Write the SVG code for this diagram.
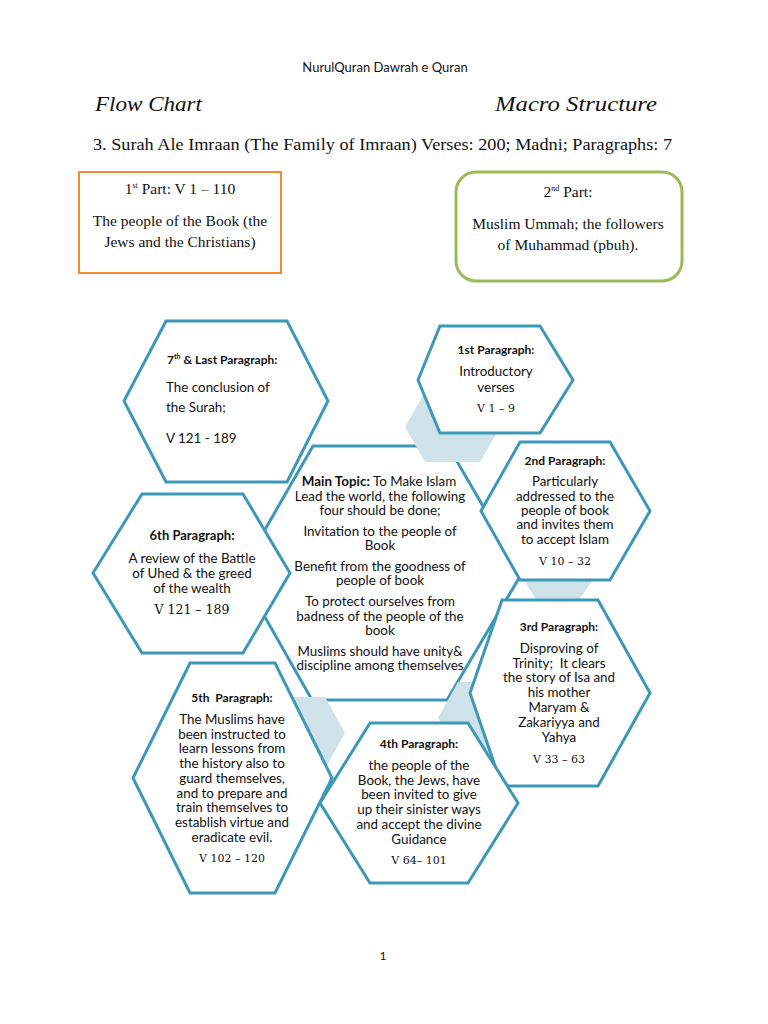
<svg xmlns="http://www.w3.org/2000/svg" width="768" height="1024" viewBox="0 0 768 1024">
<style>
.hex{fill:#fff;stroke:#3d98b8;stroke-width:3;stroke-linejoin:miter}
.lt{fill:#cfe2ea;stroke:none}
.s{font-family:Lato,"Open Sans","Liberation Sans",sans-serif;font-size:13.4px;fill:#111;text-anchor:middle}
.h{font-family:Lato,"Liberation Sans",sans-serif;font-size:12px;font-weight:bold;fill:#111;text-anchor:middle}
.v{font-family:"DejaVu Serif","Liberation Serif",serif;font-size:11px;fill:#111;text-anchor:middle}
.g{font-family:"Liberation Serif","DejaVu Serif",serif;font-size:15.5px;fill:#111;text-anchor:middle}
.sc{font-family:"Liberation Serif",serif;font-style:italic;font-size:22px;fill:#111}
.pre{white-space:pre}
</style>
<rect width="768" height="1024" fill="#fff"/>
<text x="385" y="72" class="s" style="font-size:13px">NurulQuran Dawrah e Quran</text>
<text x="95" y="111" class="sc" textLength="107" lengthAdjust="spacingAndGlyphs">Flow Chart</text>
<text x="495" y="111" class="sc" textLength="162" lengthAdjust="spacingAndGlyphs">Macro Structure</text>
<text x="93" y="150" class="g" style="font-size:16.5px;text-anchor:start" textLength="579" lengthAdjust="spacingAndGlyphs">3. Surah Ale Imraan (The Family of Imraan) Verses: 200; Madni; Paragraphs: 7</text>

<g id="part1">
<rect x="79" y="172" width="202" height="101" fill="#fff" stroke="#f58a2e" stroke-width="2"/>
<text x="180" y="194" class="g">1<tspan font-size="8" dy="-6">st</tspan><tspan dy="6"> Part: V 1 – 110</tspan></text>
<text x="180" y="226" class="g">The people of the Book (the</text>
<text x="180" y="247" class="g">Jews and the Christians)</text>
</g>
<g id="part2">
<rect x="456" y="172" width="226" height="109" rx="20" fill="#fff" stroke="#9bbb59" stroke-width="3"/>
<text x="568" y="197" class="g">2<tspan font-size="8" dy="-6">nd</tspan><tspan dy="6"> Part:</tspan></text>
<text x="568" y="229" class="g">Muslim Ummah; the followers</text>
<text x="568" y="250" class="g">of Muhammad (pbuh).</text>
</g>

<g id="main">
<polygon class="hex" points="240,573 313,446 448,446 522,573 447,700 312,700"/>
<text x="379" y="486" class="s"><tspan font-weight="bold">Main Topic:</tspan> To Make Islam</text>
<text x="380" y="501" class="s">Lead the world, the following</text>
<text x="380" y="515" class="s">four should be done;</text>
<text x="380" y="536" class="s">Invitation to the people of</text>
<text x="380" y="550" class="s">Book</text>
<text x="380" y="571" class="s">Benefit from the goodness of</text>
<text x="380" y="585" class="s">people of book</text>
<text x="380" y="606" class="s">To protect ourselves from</text>
<text x="380" y="621" class="s">badness of the people of the</text>
<text x="380" y="635" class="s">book</text>
<text x="380" y="656" class="s">Muslims should have unity&amp;</text>
<text x="380" y="670" class="s">discipline among themselves</text>
</g>

<g id="connectors">
<polygon class="lt" points="405,427 425,392 480,392 500,427 480,462 425,462"/>
<polygon class="lt" points="438,718 458,682 505,682 525,718 505,753 458,753"/>
<polygon class="lt" points="270,733 290,697 325,697 345,733 325,769 290,769"/>
<polygon class="lt" points="520,574 597,574 578,601 537,601"/>
</g>

<g id="p1">
<polygon class="hex" points="418,380 440,326 540,326 573,380 540,433 440,433"/>
<text x="496" y="354" class="h">1st Paragraph:</text>
<text x="496" y="376" class="s">Introductory</text>
<text x="496" y="392" class="s">verses</text>
<text x="496" y="412" class="v">V 1 – 9</text>
</g>
<g id="p7">
<polygon class="hex" points="124,401 166,321 287,321 328,401 287,482 166,482"/>
<text x="167" y="364" class="h" style="text-anchor:start">7<tspan font-size="7" dy="-5">th</tspan><tspan dy="5"> &amp; Last Paragraph:</tspan></text>
<text x="166" y="392" class="s" style="text-anchor:start">The conclusion of</text>
<text x="166" y="412" class="s" style="text-anchor:start">the Surah;</text>
<text x="166" y="443" class="s" style="text-anchor:start">V 121 - 189</text>
</g>
<g id="p6">
<polygon class="hex" points="93,573 142,494 243,494 290,573 243,653 142,653"/>
<text x="192" y="540" class="h" style="font-size:13px">6th Paragraph:</text>
<text x="192" y="563" class="s">A review of the Battle</text>
<text x="192" y="578" class="s">of Uhed &amp; the greed</text>
<text x="192" y="593" class="s">of the wealth</text>
<text x="192" y="614" class="v" style="font-size:12.5px">V 121 – 189</text>
</g>
<g id="p2">
<polygon class="hex" points="481,511 520,442 610,442 650,511 610,580 520,580"/>
<text x="565" y="465" class="h">2nd Paragraph:</text>
<text x="565" y="486" class="s">Particularly</text>
<text x="565" y="501" class="s">addressed to the</text>
<text x="565" y="515" class="s">people of book</text>
<text x="565" y="529" class="s">and invites them</text>
<text x="565" y="544" class="s">to accept Islam</text>
<text x="565" y="565" class="v">V 10 – 32</text>
</g>
<g id="p3">
<polygon class="hex" points="470,693 502,600 598,600 650,693 598,786 502,786"/>
<text x="559" y="631" class="h">3rd Paragraph:</text>
<text x="559" y="653" class="s">Disproving of</text>
<text x="559" y="668" class="s pre">Trinity;  It clears</text>
<text x="559" y="682" class="s">the story of Isa and</text>
<text x="559" y="697" class="s">his mother</text>
<text x="559" y="712" class="s">Maryam &amp;</text>
<text x="559" y="727" class="s">Zakariyya and</text>
<text x="559" y="742" class="s">Yahya</text>
<text x="559" y="763" class="v">V 33 – 63</text>
</g>
<g id="p5">
<polygon class="hex" points="133,778 190,663 275,663 332,778 275,893 190,893"/>
<text x="232" y="702" class="h pre">5th  Paragraph:</text>
<text x="232" y="724" class="s">The Muslims have</text>
<text x="232" y="739" class="s">been instructed to</text>
<text x="232" y="753" class="s">learn lessons from</text>
<text x="232" y="768" class="s">the history also to</text>
<text x="232" y="783" class="s">guard themselves,</text>
<text x="232" y="798" class="s">and to prepare and</text>
<text x="232" y="812" class="s">train themselves to</text>
<text x="232" y="827" class="s">establish virtue and</text>
<text x="232" y="842" class="s">eradicate evil.</text>
<text x="232" y="862" class="v">V 102 – 120</text>
</g>
<g id="p4">
<polygon class="hex" points="320,803 370,723 468,723 518,803 468,883 370,883"/>
<text x="419" y="748" class="h">4th Paragraph:</text>
<text x="419" y="770" class="s">the people of the</text>
<text x="419" y="785" class="s">Book, the Jews, have</text>
<text x="419" y="799" class="s">been invited to give</text>
<text x="419" y="814" class="s">up their sinister ways</text>
<text x="419" y="829" class="s">and accept the divine</text>
<text x="419" y="844" class="s">Guidance</text>
<text x="419" y="864" class="v">V 64– 101</text>
</g>
<text x="383" y="960" class="s" style="font-size:12px">1</text>
</svg>
